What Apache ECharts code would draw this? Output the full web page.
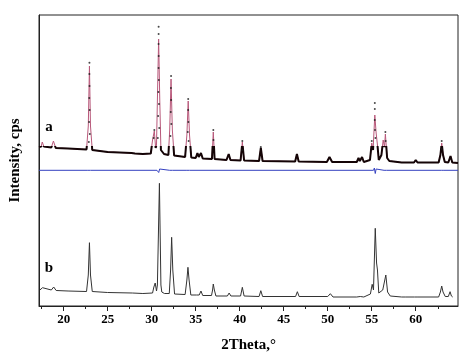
<!DOCTYPE html>
<html>
<head>
<meta charset="utf-8">
<script src="https://cdn.jsdelivr.net/npm/echarts@6/dist/echarts.min.js"></script>
<style>
  html, body { margin: 0; padding: 0; background: #fff; }
  #xrd { width: 474px; height: 363px; }
</style>
</head>
<body>
<div id="xrd"></div>
<script>
// tick labels (2Theta, degrees)
var majorTicks = [20, 25, 30, 35, 40, 45, 50, 55, 60];
var minorTicks = [17.5, 22.5, 27.5, 32.5, 37.5, 42.5, 47.5, 52.5, 57.5, 62.5];

// pattern a, refined profile [2theta, intensity]
var aProfile = [
  [17.2,159],[17.45,159.5],[17.57,164],[17.75,159.5],[18.6,158.5],[18.84,165],[19.1,158],
  [20.5,157.5],[22.6,156.5],[22.8,180],[22.93,240],[23.05,180],[23.25,156],[25,154],
  [27.7,153],[27.9,154.5],[28.1,152.5],[29,152],[29.9,152.5],[30.1,166],[30.3,175],
  [30.45,158],[30.55,161],[30.65,206],[30.79,267],[30.92,206],[31.05,156],[31.2,155],
  [31.4,152],[31.9,151],[32.05,176],[32.2,227],[32.35,176],[32.55,150.5],[33.8,149],
  [34.0,171],[34.15,205],[34.3,171],[34.5,148.5],[35.0,148],[35.2,153],[35.35,149],
  [35.6,153],[35.8,147.5],[36.85,147],[37.0,174],[37.15,147],[38.5,146],[38.75,152],
  [38.95,146],[40.1,145.5],[40.3,164],[40.5,145.5],[42.2,145],[42.4,158],[42.6,145],
  [46.3,144.5],[46.5,152],[46.7,144.5],[49.9,144],[50.2,149],[50.5,144],[53.3,144],
  [53.5,148],[53.65,145],[53.9,149],[54.1,144],[54.8,146],[55.0,163],[55.15,156],
  [55.35,191],[55.5,173],[55.65,161],[55.8,146],[56.1,151],[56.3,166],[56.45,159],
  [56.55,172],[56.75,148],[57.0,145],[58.4,143.5],[58.55,145],[58.7,143.5],[59.8,143.5],
  [60.0,146],[60.2,143.5],[62.6,143.5],[62.8,151],[62.95,163],[63.1,151],[63.3,144],
  [63.7,143.5],[63.95,150],[64.15,143.5],[64.8,143]
];

// pattern a, observed points visible along the peaks
var aDots = [
  [22.93,243.3],[22.92,232],[22.94,220],[22.91,208],[22.95,196],[22.89,184],[22.97,172],[22.86,164],
  [30.79,279.3],[30.79,272],[30.78,262],[30.8,250],[30.78,238],[30.81,226],[30.76,214],
  [30.83,202],[30.73,190],[30.86,178],[30.7,168],
  [32.2,230],[32.19,218],[32.21,206],[32.17,194],[32.23,182],[32.13,170],
  [34.15,207],[34.14,196],[34.17,184],[34.1,174],[34.2,165],
  [37.0,176],[37.02,166],[30.3,176],[30.22,168],
  [55.35,203],[55.35,197],[55.34,186],[55.37,176],[55.42,168],
  [56.55,174],[56.58,165],[55.0,165],[62.95,165],[62.92,157],[40.3,165],[40.32,156],[42.4,159]
];

// difference curve
var aDiff = [
  [17.2,135.7],[22.75,135.7],[22.85,136.5],[22.95,134.5],[23.05,135.7],
  [30.6,135.7],[30.7,137.5],[30.8,133.5],[30.9,137],[31.0,135.7],
  [32.05,135.7],[32.15,137],[32.25,134.5],[32.35,135.7],
  [34.0,135.7],[34.1,136.5],[34.2,134.5],[34.3,135.7],
  [55.2,135.7],[55.3,138],[55.4,132.5],[55.5,137],[55.6,135.7],
  [56.4,135.7],[56.5,136.5],[56.6,135],[56.7,135.7],
  [62.9,135.7],[63.0,136.5],[63.1,135],[63.2,135.7],[64.8,135.7]
];

// pattern b
var bProfile = [
  [17.3,16],[17.45,17.5],[17.6,18.3],[17.8,16.5],[18.6,16],[18.87,19],[19.15,15.5],
  [20.5,15],[22.6,14.5],[22.8,31],[22.93,63.3],[23.05,31],[23.25,14.5],[25,13.5],
  [27.8,13],[28,13.5],[29,12.5],[30.1,13],[30.25,19],[30.4,23],[30.55,15],[30.65,21],
  [30.88,122.7],[31.05,21],[31.15,14],[31.25,14.3],[31.45,12.5],[32.0,12.5],[32.15,36],
  [32.27,68.7],[32.4,36],[32.6,12],[33.8,11.5],[34.0,26],[34.12,38.7],[34.25,26],
  [34.45,11],[35.1,11],[35.25,13],[35.4,11],[35.6,15],[35.8,10.5],[36.8,10.5],
  [36.92,16],[37.0,22],[37.12,16],[37.3,10],[38.6,10],[38.8,13],[39.0,10],[40.1,10],
  [40.3,18.7],[40.5,10],[42.2,9.5],[42.4,15.3],[42.6,9.5],[46.35,9.5],[46.55,14.3],
  [46.75,9.5],[50.0,9.5],[50.3,12.3],[50.6,9],[53.3,9],[53.5,10.5],[53.7,9.5],
  [53.9,10.7],[54.1,9],[54.85,12],[55.05,21.7],[55.2,16],[55.4,77.7],[55.55,43],
  [55.65,36],[55.8,13],[56.0,12],[56.25,16],[56.4,14],[56.6,31],[56.8,14],[57.1,10],
  [58.4,9],[58.6,10],[58.8,9],[59.85,9],[60.0,10.7],[60.15,9],[62.6,9],[62.8,14],
  [62.95,20],[63.1,14],[63.35,9.5],[63.7,9.5],[63.9,14.3],[64.05,10],[64.2,9]
];

var serif = 'Liberation Serif';
var chartDom = document.getElementById('xrd');
var myChart = echarts.init(chartDom);
var option;

option = {
  animation: false,
  grid: {
    left: 36, right: 16, top: 15, bottom: 57,
    show: true, borderColor: '#222', borderWidth: 1
  },
  xAxis: [
    {
      type: 'value', min: 17.2, max: 64.8,
      name: '2Theta,\u00b0', nameLocation: 'middle', nameGap: 32,
      nameTextStyle: { fontFamily: serif, fontWeight: 'bold', fontSize: 15, color: '#000' },
      axisLine: { lineStyle: { color: '#222', width: 1 } },
      axisTick: { customValues: majorTicks, length: 5, lineStyle: { color: '#222' } },
      axisLabel: {
        customValues: majorTicks, margin: 7,
        fontFamily: serif, fontWeight: 'bold', fontSize: 13, color: '#000'
      },
      splitLine: { show: false }
    },
    {
      type: 'value', min: 17.2, max: 64.8, position: 'bottom',
      axisLine: { show: false },
      axisTick: { customValues: minorTicks, length: 3, lineStyle: { color: '#222' } },
      axisLabel: { show: false },
      splitLine: { show: false }
    }
  ],
  yAxis: {
    type: 'value', min: 0, max: 291,
    name: 'Intensity, cps', nameLocation: 'middle', nameGap: 16,
    nameTextStyle: { fontFamily: serif, fontWeight: 'bold', fontSize: 15, color: '#000' },
    axisLine: { show: true, lineStyle: { color: '#222' } },
    axisTick: { show: false },
    axisLabel: { show: false },
    splitLine: { show: false }
  },
  // observed trace shows as a thick dark band near the background only
  visualMap: {
    type: 'piecewise', show: false, seriesIndex: 1, dimension: 1,
    pieces: [
      { min: 0, max: 160, color: '#140406' },
      { min: 160, max: 291, color: 'rgba(255,255,255,0)' }
    ]
  },
  graphic: [
    { type: 'text', x: 49, y: 127, style: { text: 'a', font: 'bold 15px "Liberation Serif"', fill: '#000', align: 'center', verticalAlign: 'middle' } },
    { type: 'text', x: 49, y: 268, style: { text: 'b', font: 'bold 15px "Liberation Serif"', fill: '#000', align: 'center', verticalAlign: 'middle' } }
  ],
  series: [
    {
      name: 'a calculated', type: 'line', data: aProfile, showSymbol: false,
      lineStyle: { color: '#b8587a', width: 1 }, z: 2
    },
    {
      name: 'a observed', type: 'line', data: aProfile, showSymbol: false,
      lineStyle: { width: 2 }, z: 3
    },
    {
      name: 'a points', type: 'scatter', data: aDots, symbolSize: 2,
      itemStyle: { color: '#1a1a1a' }, z: 4
    },
    {
      name: 'difference', type: 'line', data: aDiff, showSymbol: false,
      lineStyle: { color: '#3440c0', width: 1 }, z: 2
    },
    {
      name: 'b', type: 'line', data: bProfile, showSymbol: false,
      lineStyle: { color: '#333', width: 1 }, z: 2
    }
  ]
};

option && myChart.setOption(option);
</script>
</body>
</html>
